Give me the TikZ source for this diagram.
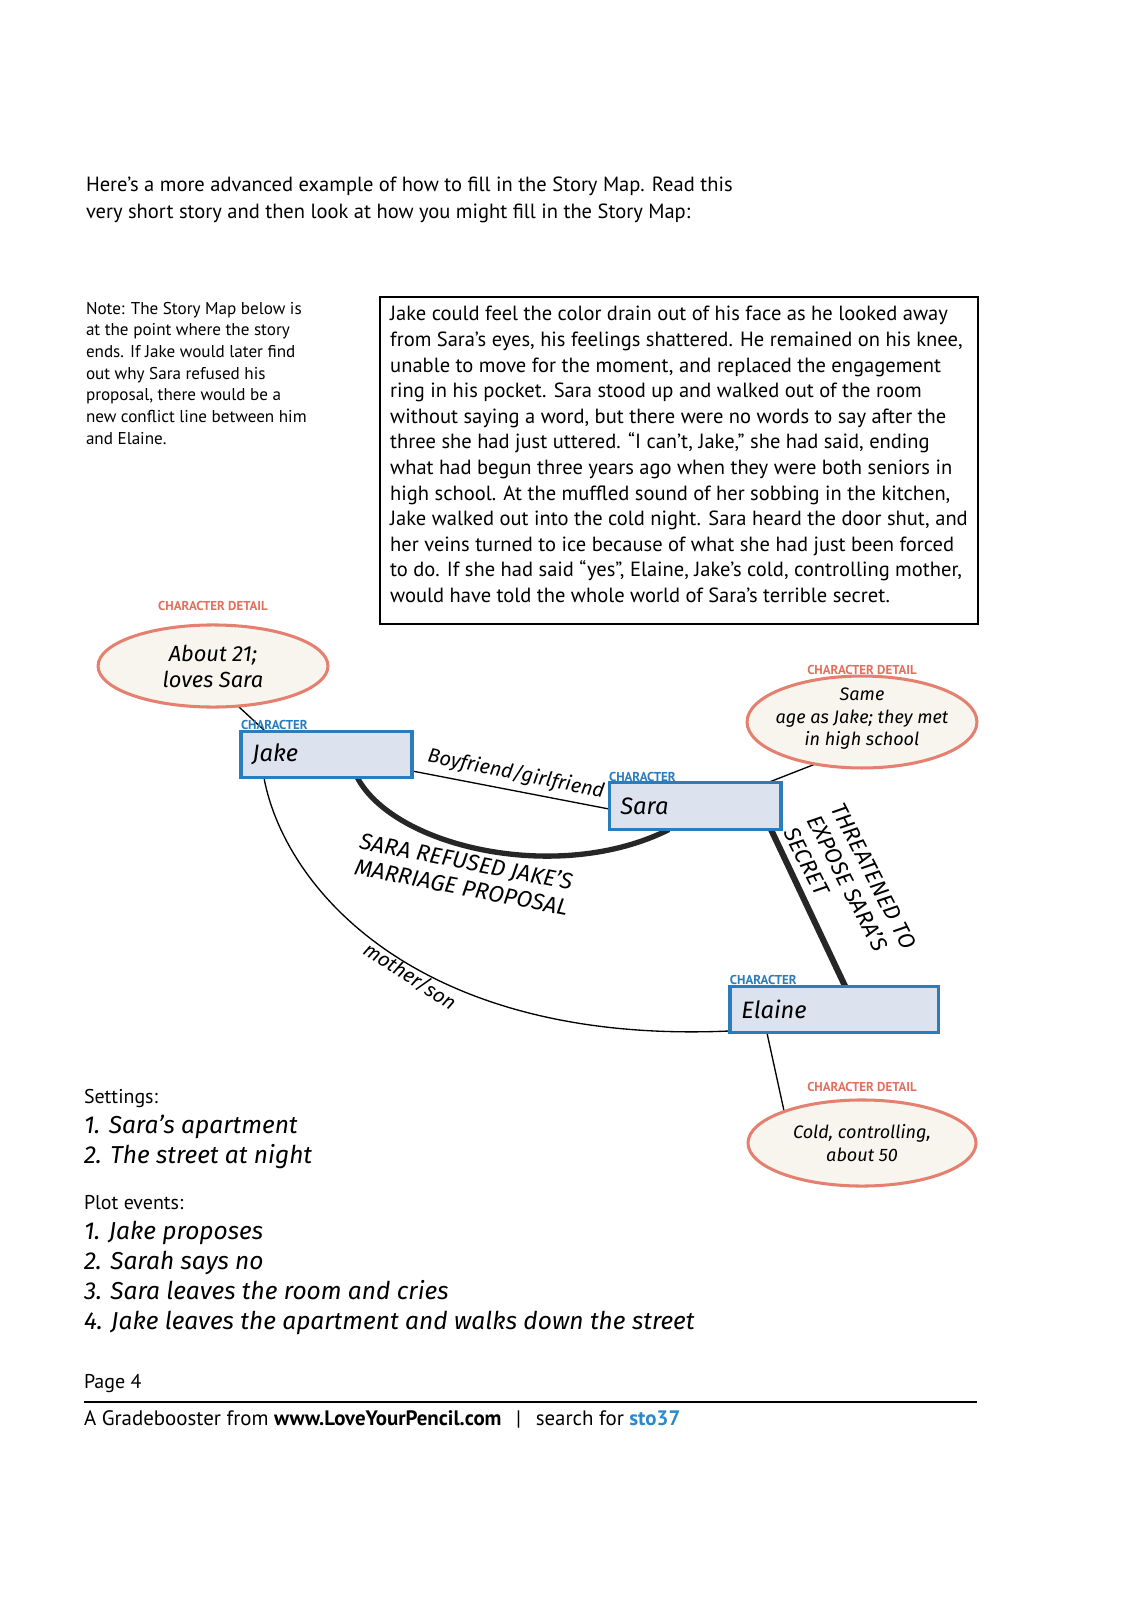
\documentclass[tikz,border=0pt]{standalone}
\usepackage{fontspec}
\setmainfont{PT Sans}
\newfontfamily\hand{Fira Sans}
\usetikzlibrary{shapes.geometric,calc,backgrounds}
\definecolor{salmon}{HTML}{E57F6F}
\definecolor{salmontxt}{HTML}{E2705E}
\definecolor{cream}{HTML}{F7F5EE}
\definecolor{cblue}{HTML}{2A7CBC}
\definecolor{boxfill}{HTML}{DDE3EE}
\definecolor{linkblue}{HTML}{2A8AC8}
\begin{document}
\begin{tikzpicture}[x={(0.5263pt,0)}, y={(0,-0.5263pt)},
  every node/.style={inner sep=0pt, outer sep=0pt},
  para/.style={align=left, anchor=north west},
  charbox/.style={draw=cblue, line width=1.6pt, fill=boxfill, minimum height=24.7pt,
    align=left, inner xsep=6pt, text width=#1,
    font=\hand\itshape\fontsize{12.5}{14}\selectfont},
  detail/.style={ellipse, draw=salmon, line width=1.6pt, fill=cream, align=center},
  detlab/.style={font=\bfseries\fontsize{6.8}{8}\selectfont, text=salmontxt},
  charlab/.style={font=\bfseries\fontsize{6.8}{8}\selectfont, text=cblue, anchor=south west},
  link/.style={line width=0.7pt, draw=black},
  conflict/.style={line width=2.8pt, draw=black!85},
  linklab/.style={font=\hand\itshape\fontsize{10.5}{13.2}\selectfont}
]
\useasboundingbox (0,0) rectangle (1131,1600);

% heading
\node[para, font=\fontsize{10.8}{14}\selectfont] (head) at (86,177)
  {Here’s a more advanced example of how to fill in the Story Map. Read this\\
   very short story and then look at how you might fill in the Story Map:};

% note
\node[para, font=\fontsize{9}{11.4}\selectfont] (note) at (86,302)
  {Note: The Story Map below is\\
   at the point where the story\\
   ends. If Jake would later find\\
   out why Sara refused his\\
   proposal, there would be a\\
   new conflict line between him\\
   and Elaine.};

% story
\node[draw, line width=0.9pt, minimum width=314.7pt, minimum height=172pt] (storybox) at (679,460.5) {};
\node[align=left, font=\fontsize{10.8}{13.47}\selectfont] (story) at ($(storybox.center)+(0,-6)$)
  {Jake could feel the color drain out of his face as he looked away\\
   from Sara’s eyes, his feelings shattered. He remained on his knee,\\
   unable to move for the moment, and replaced the engagement\\
   ring in his pocket. Sara stood up and walked out of the room\\
   without saying a word, but there were no words to say after the\\
   three she had just uttered. “I can’t, Jake,” she had said, ending\\
   what had begun three years ago when they were both seniors in\\
   high school. At the muffled sound of her sobbing in the kitchen,\\
   Jake walked out into the cold night. Sara heard the door shut, and\\
   her veins turned to ice because of what she had just been forced\\
   to do. If she had said “yes”, Elaine, Jake’s cold, controlling mother,\\
   would have told the whole world of Sara’s terrible secret.};

% character details
\node[detlab] (jdlab) at (213,606) {CHARACTER DETAIL};
\node[detail, minimum width=121pt, minimum height=43.2pt,
      font=\hand\itshape\fontsize{11.5}{13.7}\selectfont] (jd) at (213,666)
  {About 21;\\loves Sara};
\node[detlab] (sdlab) at (862,670) {CHARACTER DETAIL};
\node[detail, minimum width=121pt, minimum height=48.4pt, inner xsep=-3pt, inner ysep=-3pt,
      font=\hand\itshape\fontsize{9.5}{11.6}\selectfont] (sd) at (862,722)
  {Same\\age as Jake; they met\\in high school\\[-6pt]\mbox{}};
\node[detlab] (edlab) at (862,1087) {CHARACTER DETAIL};
\node[detail, minimum width=120pt, minimum height=45.3pt,
      font=\hand\itshape\fontsize{9.5}{12}\selectfont] (ed) at (862,1143)
  {Cold, controlling,\\about 50};

% characters
\node[charbox=78pt] (jake) at (326.5,754.5) {Jake};
\node[charbox=78.5pt] (sara) at (695,806) {Sara};
\node[charbox=97.5pt] (elaine) at (834,1009.5) {Elaine};
\node[charlab] (jakelab) at ($(jake.north west)+(0,-1)$) {CHARACTER};
\node[charlab] (saralab) at ($(sara.north west)+(0,-1)$) {CHARACTER};
\node[charlab] (elainelab) at ($(elaine.north west)+(0,-1)$) {CHARACTER};

% background and connectors
\begin{scope}[on background layer]
\fill[white] (0,0) rectangle (1131,1600);
\draw[link] (jd.-58) -- ($(jake.north west)+(24,0)$);
\draw[link] ($(sara.north east)+(-13,0)$) -- (sd.-138);
\draw[link] ($(elaine.south west)+(37,0)$) -- (ed.158);
\draw[link] ($(jake.south east)+(0,-7)$) -- ($(sara.west)+(0,3)$);
\draw[conflict] ($(jake.south)+(31,0)$) .. controls +(38,70) and +(-109,55) .. ($(sara.south)+(-26,0)$);
\draw[link] ($(jake.south west)+(23,0)$) .. controls +(21,112) and +(-310,14) .. ($(elaine.south west)+(0,-2)$);
\draw[conflict, line width=3.2pt] ($(sara.south east)+(-10,0)$) -- ($(elaine.north)+(11,0)$);
\end{scope}

% connector labels
\node[linklab, rotate=-11.5] (bflab) at (516,774) {Boyfriend/girlfriend};
\node[linklab, rotate=-11, align=left, font=\hand\itshape\fontsize{12}{13.6}\selectfont] (reflab) at (464,874) {SARA REFUSED JAKE’S\\MARRIAGE PROPOSAL};
\node[linklab, rotate=-63, align=left, font=\hand\itshape\fontsize{11.8}{14}\selectfont] (thrlab) at (850,888) {THREATENED TO\\EXPOSE SARA’S\\SECRET};
\node[linklab, rotate=-33] (mslab) at (410,976) {mother/son};

% settings and plot
\node[para, font=\hand\itshape\fontsize{12.9}{15.9}\selectfont] (settings) at (84,1089)
  {{\normalfont\fontsize{10.5}{15.9}\selectfont Settings:}\\
   1. Sara’s apartment\\
   2. The street at night};
\node[para, font=\hand\itshape\fontsize{12.9}{15.9}\selectfont] (plot) at (84,1195)
  {{\normalfont\fontsize{10.5}{15.9}\selectfont Plot events:}\\
   1. Jake proposes\\
   2. Sarah says no\\
   3. Sara leaves the room and cries\\
   4. Jake leaves the apartment and walks down the street};

% footer
\node[anchor=base west, font=\fontsize{10.5}{12}\selectfont] (page) at (84,1388) {Page 4};
\draw[line width=1pt] (84,1402) -- (977,1402);
\node[anchor=base west, font=\fontsize{11}{12}\selectfont] (footer) at (84,1425)
  {A Gradebooster from \textbf{www.LoveYourPencil.com}\hspace{0.7em}|\hspace{0.7em}search for \textcolor{linkblue}{\textbf{sto37}}};
\end{tikzpicture}
\end{document}
